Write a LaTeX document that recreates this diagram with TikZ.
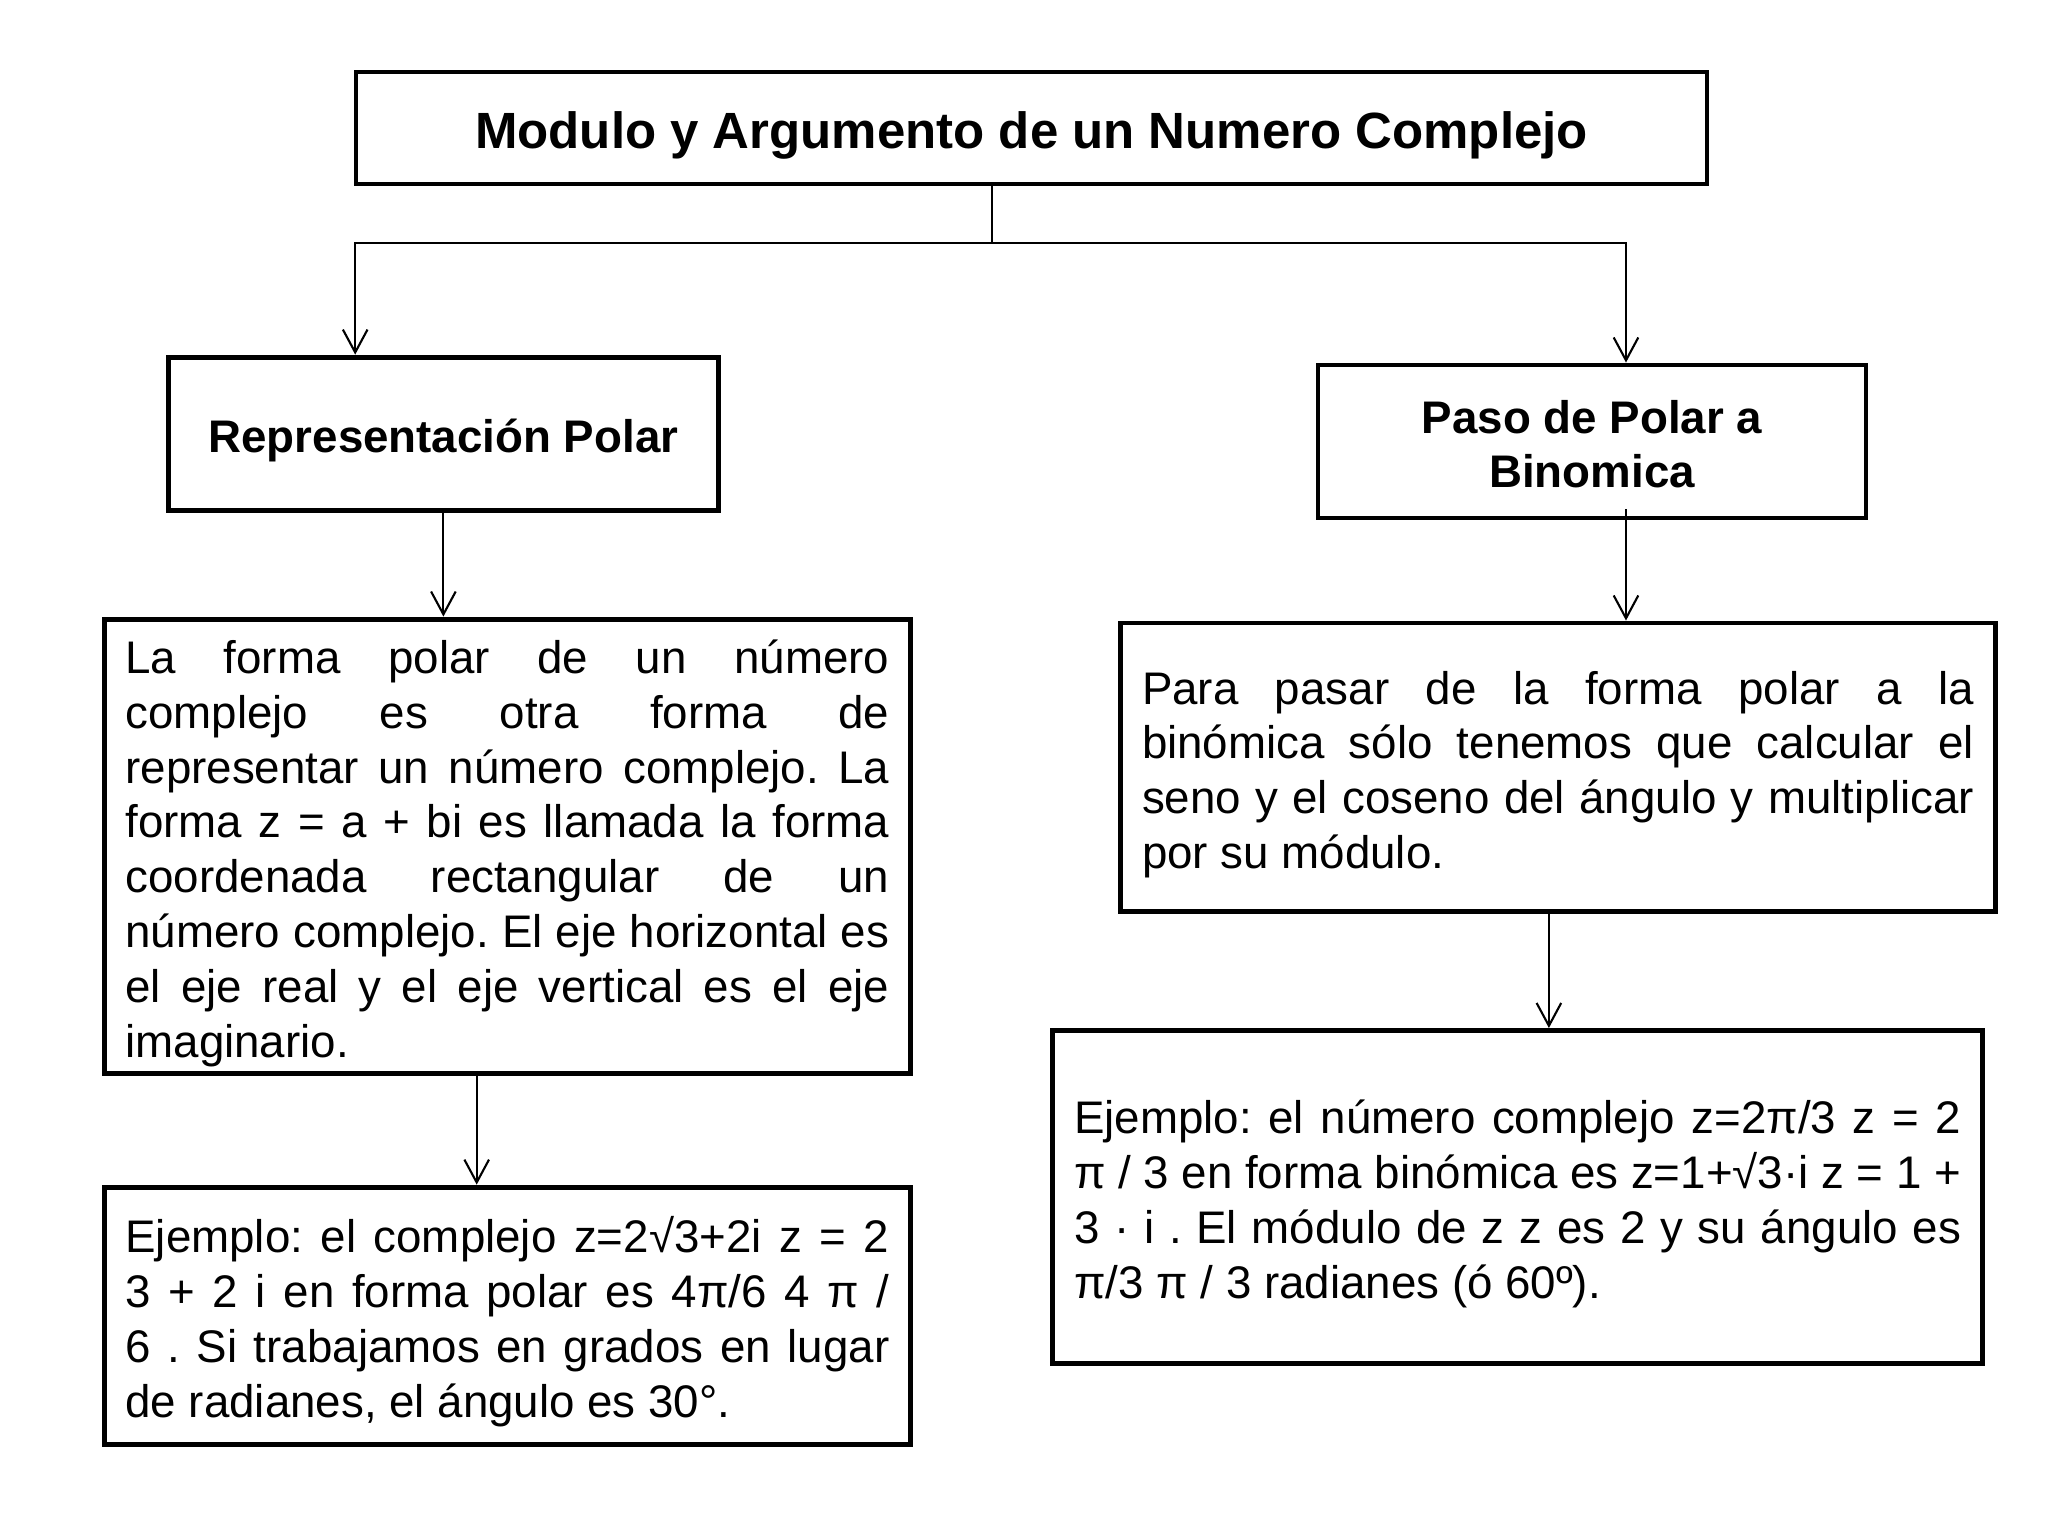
\documentclass[tikz,border=0pt]{standalone}
\usepackage{fontspec}
\setmainfont{Liberation Sans}
\usetikzlibrary{arrows.meta,calc}
\begin{document}
\tolerance=10000
\hyphenpenalty=10000
\frenchspacing
\begin{tikzpicture}[
  box/.style={draw, line width=1.4pt, inner sep=0pt, align=center},
  head/.style={box, font=\fontsize{13}{15.3}\selectfont\bfseries},
  para/.style={box, align=justify, font=\fontsize{13}{15.6}\selectfont, execute at begin node={\rule{0pt}{13.5pt}}},
  arr/.style={-{Straight Barb[length=6.5pt,width=7pt]}, line width=0.6pt}
]
\useasboundingbox (0,0) rectangle (20.48,-15.36);
\node[box, font=\fontsize{14.5}{17}\selectfont\bfseries, text height=11.9pt, text depth=0pt, minimum width=13.51cm, minimum height=1.12cm] (title) at (10.315,-1.28) {Modulo y Argumento de un Numero Complejo};
\node[head, text height=10.8pt, text depth=0pt, minimum width=5.50cm, minimum height=1.53cm] (A) at (4.434,-4.336) {Representación Polar};
\node[head, minimum width=5.48cm, minimum height=1.53cm] (B) at (15.92,-4.415) {\rule{0pt}{10.8pt}Paso de Polar a\\Binomica};
\node[para, text width=7.64cm, minimum width=8.06cm, minimum height=4.545cm] (C) at (5.074,-8.463) {La forma polar de un número\linebreak complejo es otra forma de\linebreak representar un número complejo. La\linebreak forma z = a + bi es llamada la forma\linebreak coordenada rectangular de un\linebreak número complejo. El eje horizontal es\linebreak el eje real y el eje vertical es el eje\linebreak imaginario.};
\node[para, text width=7.64cm, minimum width=8.06cm, minimum height=2.573cm] (D) at (5.074,-13.158) {Ejemplo: el complejo z=2√3+2i z = 2\linebreak 3 + 2 i en forma polar es 4π/6 4 π /\linebreak 6 . Si trabajamos en grados en lugar\linebreak de radianes, el ángulo es 30°.};
\node[para, text width=8.32cm, minimum width=8.75cm, minimum height=2.886cm] (E) at (15.58,-7.673) {Para pasar de la forma polar a la\linebreak binómica sólo tenemos que calcular el\linebreak seno y el coseno del ángulo y multiplicar\linebreak por su módulo.};
\node[para, text width=8.87cm, minimum width=9.30cm, minimum height=3.33cm] (F) at (15.176,-11.97) {Ejemplo: el número complejo z=2π/3 z = 2\linebreak π / 3 en forma binómica es z=1+√3·i z = 1 +\linebreak 3 · i . El módulo de z z es 2 y su ángulo es\linebreak π/3 π / 3 radianes (ó 60º).};
\coordinate (split) at (9.92,-2.43);
\draw[line width=0.6pt] (title.south -| split) -- (split);
\draw[arr] (split) -| ([xshift=-0.882cm]A.north);
\draw[arr] (split) -| ([xshift=0.34cm]B.north);
\draw[arr] (A.south) -- (A.south |- C.north);
\draw[arr] ([xshift=-0.307cm]C.south) -- ([xshift=-0.307cm]C.south |- D.north);
\draw[arr] ([xshift=0.34cm,yshift=0.11cm]B.south) -- ([xshift=0.34cm]B.south |- E.north);
\draw[arr] ([xshift=-0.091cm]E.south) -- ([xshift=-0.091cm]E.south |- F.north);
\end{tikzpicture}
\end{document}
